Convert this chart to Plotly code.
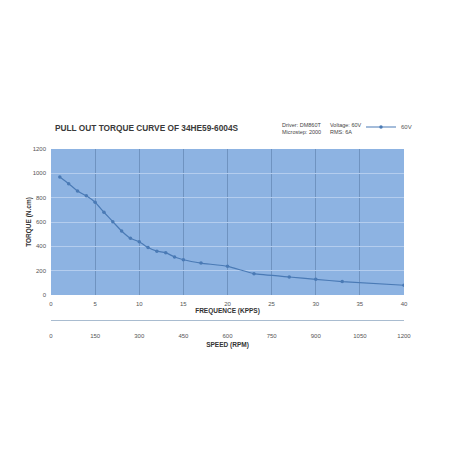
import plotly.graph_objects as go

freq_kpps = [1, 2, 3, 4, 5, 6, 7, 8, 9, 10, 11, 12, 13, 14, 15, 17, 20, 23, 27, 30, 33, 40]
torque_ncm = [970, 915, 855, 815, 762, 680, 603, 526, 466, 438, 390, 360, 348, 312, 290, 262, 236, 175, 148, 129, 110, 80]
x_ticks = [0, 5, 10, 15, 20, 25, 30, 35, 40]
y_ticks = [0, 200, 400, 600, 800, 1000, 1200]
speed_ticks = [0, 150, 300, 450, 600, 750, 900, 1050, 1200]

OFF = 8  # page body margin
W = H = 444
L, R, T, B = 51 - OFF, 48, 100 - OFF, 72
ph = H - T - B
pw = W - L - R

def py(ypix):
    return 1 - (ypix - OFF - T) / ph

def px(xpix):
    return (xpix - OFF - L) / pw

fig = go.Figure()
fig.add_trace(go.Scatter(
    x=freq_kpps, y=torque_ncm, mode="lines+markers", name="60V",
    line=dict(color="#4A7AB5", width=1.2, shape="spline", smoothing=0.4),
    marker=dict(color="#4A7AB5", size=3.5),
))
fig.add_trace(go.Scatter(x=[0, 1200], y=[0, 0], xaxis="x2", yaxis="y",
                         mode="lines", line=dict(width=0), showlegend=False,
                         hoverinfo="skip", opacity=0))

tickfont = dict(family="Liberation Sans, Arial", size=6, color="#555555")
titlefont = dict(family="Liberation Sans, Arial", size=6.5, color="#333333")

fig.update_layout(
    width=W, height=H,
    margin=dict(l=L, r=R, t=T, b=B),
    paper_bgcolor="white",
    plot_bgcolor="#8DB3E2",
    showlegend=True,
    legend=dict(x=px(361), y=py(127), xanchor="left", yanchor="middle",
                font=dict(family="Liberation Sans, Arial", size=6, color="#555555"),
                bgcolor="rgba(0,0,0,0)", itemwidth=30),
    xaxis=dict(range=[0, 40], tickvals=x_ticks, ticktext=[str(v) for v in x_ticks],
               showgrid=True, gridcolor="#6F93C0", gridwidth=1,
               zeroline=False, showline=False, ticks="", tickfont=tickfont,
               ticklabelstandoff=4,
               title=dict(text="<b>FREQUENCE (KPPS)</b>", font=titlefont, standoff=2)),
    yaxis=dict(range=[0, 1200], tickvals=y_ticks, ticktext=[str(v) for v in y_ticks],
               domain=[py(295), py(149)],
               showgrid=True, gridcolor="#B4CDEE", gridwidth=1,
               zeroline=False, showline=False, ticks="", tickfont=tickfont,
               ticklabelstandoff=4,
               title=dict(text="<b>TORQUE (N.cm)</b>", font=titlefont, standoff=0)),
    xaxis2=dict(range=[0, 1200], tickvals=speed_ticks, ticktext=[str(v) for v in speed_ticks],
                overlaying="x", anchor="free", position=py(320), side="bottom",
                showgrid=False, zeroline=False, showline=True, linecolor="#A9BCD0",
                linewidth=1, ticks="", tickfont=tickfont, ticklabelstandoff=10,
                title=dict(text="<b>SPEED (RPM)</b>", font=titlefont, standoff=4)),
    annotations=[
        dict(text="<b>PULL OUT TORQUE CURVE OF 34HE59-6004S</b>", xref="paper", yref="paper",
             x=px(53), y=py(128), xanchor="left", yanchor="middle",
             showarrow=False, font=dict(family="Liberation Sans, Arial", size=8.3, color="#3A3A3A")),
        dict(text="Driver: DM860T<br>Microstep: 2000", xref="paper", yref="paper",
             x=px(280), y=py(128.5), xanchor="left", yanchor="middle", align="left",
             showarrow=False, font=dict(family="Liberation Sans, Arial", size=5.5, color="#444444")),
        dict(text="Voltage: 60V<br>RMS: 6A", xref="paper", yref="paper",
             x=px(328), y=py(128.5), xanchor="left", yanchor="middle", align="left",
             showarrow=False, font=dict(family="Liberation Sans, Arial", size=5.5, color="#444444")),
    ],
)

fig.write_html("out.html")
